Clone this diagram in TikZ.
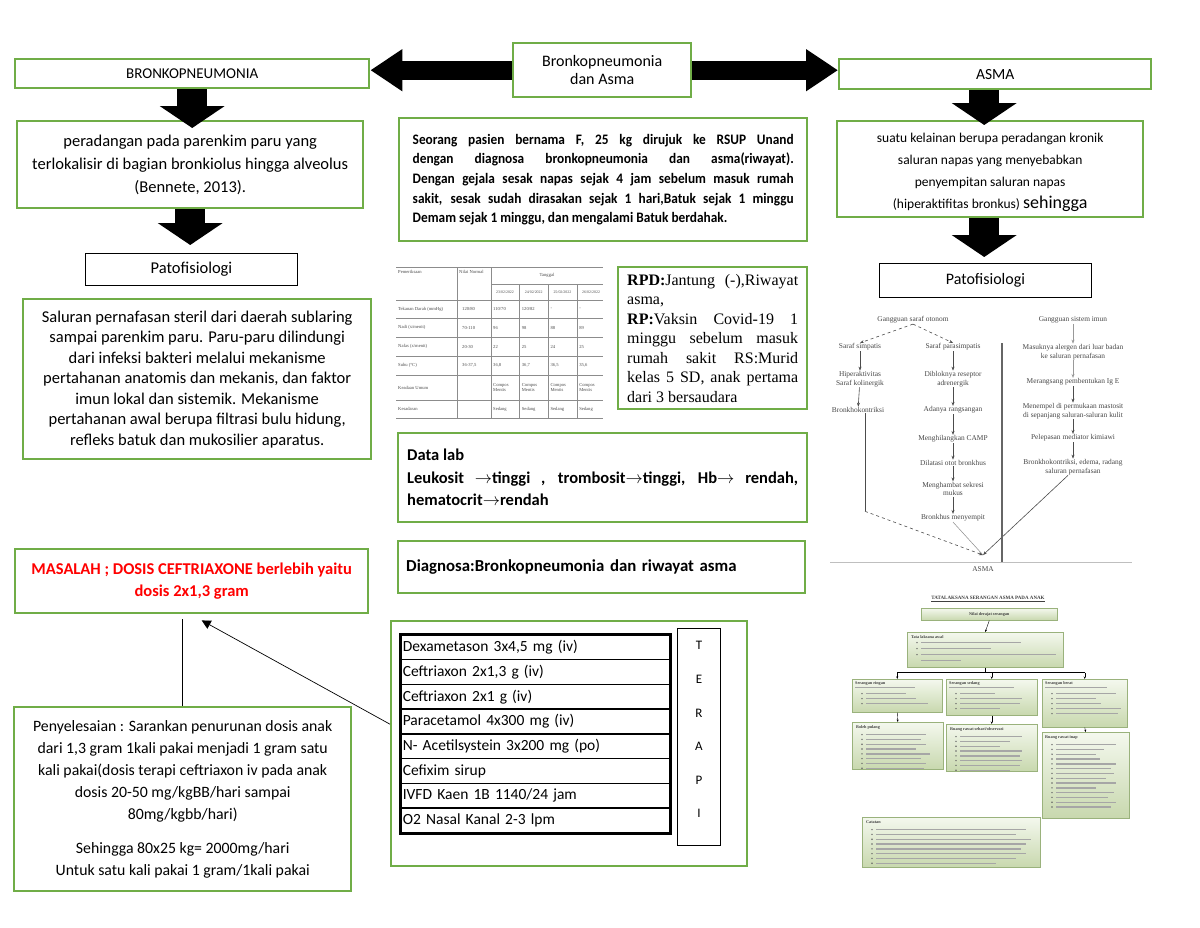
\documentclass[tikz,border=0pt]{standalone}
\usepackage{fontspec}
\setmainfont{Carlito}
\newfontfamily\timesf{Liberation Serif}
\newfontfamily\condf[FakeStretch=0.92]{Carlito}
\usetikzlibrary{arrows.meta,calc}
\definecolor{gborder}{HTML}{70AD47}
\definecolor{tgtop}{HTML}{F4F8EE}
\definecolor{tgbot}{HTML}{C8D8AE}
\definecolor{tgdraw}{HTML}{9AB27C}
\newcommand{\fsz}[2]{\fontsize{#1}{#2}\selectfont}
\newcommand{\myarr}{\ensuremath{\rightarrow}}
\newcommand{\tbars}[4]{\foreach \L [count=\q] in {#4} \fill[black!35] (#1,{#2+(\q-1)*#3}) rectangle ++(\L,1.3);}
\newcommand{\tbul}[4]{\foreach \L [count=\q] in {#4} {\fill[black!60] (#1,{#2+(\q-1)*#3+0.6}) circle (0.8); \fill[black!35] ({#1+4},{#2+(\q-1)*#3}) rectangle ++(\L,1.3);}}
\begin{document}
\begin{tikzpicture}[x=1pt,y=-1pt,
  gbox/.style={draw=gborder,line width=2.4pt,inner sep=0pt,anchor=north west},
  bbox/.style={draw=black,line width=0.9pt,inner sep=0pt,anchor=north west},
  vbig/.style={line width=30pt,-{Triangle[length=22pt 0 0,width=64pt 0 0]}},
  hbig/.style={line width=19pt,-{Triangle[length=32pt 0 0,width=40pt 0 0]}},
  ptxt/.style={font=\timesf\fsz{7.4}{8.6}, text=black!72, align=center, inner sep=0.5pt},
  parr/.style={draw=black!70, line width=0.6pt, -{Stealth[length=4pt,width=3pt]}},
  tbox/.style={draw=tgdraw, line width=0.5pt, top color=tgtop, bottom color=tgbot, anchor=north west, inner sep=0pt},
  tabtxt/.style={font=\timesf\fsz{4.6}{5.2}, text=black!70, inner sep=0pt},
  thead/.style={font=\timesf\bfseries\fsz{4.2}{5}, text=black!75, inner sep=0pt, anchor=west},
  sarr/.style={line width=0.4pt, -{Stealth[length=2.5pt,width=2pt]}},
]
\useasboundingbox (0,0) rectangle (1200,927);
\fill[white] (0,0) rectangle (1200,927);

% ---------- top row ----------
\node[gbox,minimum width=354pt,minimum height=29pt,font=\fsz{15}{17}] (bp) at (14,58) {BRONKOPNEUMONIA};
\node[gbox,minimum width=178pt,minimum height=54pt,align=center,font=\fsz{16}{18.5}] (top) at (512,42) {Bronkopneumonia\\dan Asma};
\node[gbox,minimum width=312pt,minimum height=30pt,font=\fsz{15.5}{17}] (as) at (838,58) {ASMA};
\draw[hbig] (top.west) -- (top.west -| bp.east);
\draw[hbig] (top.east) -- (top.east -| as.west);

% ---------- left column ----------
\node[gbox,minimum width=346pt,minimum height=87pt,align=center,font=\fsz{16.5}{23}] (def) at (16,120) {peradangan pada parenkim paru yang\\terlokalisir di bagian bronkiolus hingga alveolus\\(Bennete, 2013).};
\draw[vbig] (bp.south) -- ([yshift=-8pt]bp.south |- def.north);
\node[bbox,minimum width=212pt,minimum height=32pt,font=\fsz{16.5}{18}] (pat1) at (85,253) {Patofisiologi};
\draw[vbig] (def.south) -- ([yshift=8pt]def.south |- pat1.north);
\node[gbox,minimum width=348pt,minimum height=160pt,align=center,font=\fsz{16.5}{20.5}] (sal) at (22,298) {Saluran pernafasan steril dari daerah sublaring\\sampai parenkim paru. Paru-paru dilindungi\\dari infeksi bakteri melalui mekanisme\\pertahanan anatomis dan mekanis, dan faktor\\imun lokal dan sistemik. Mekanisme\\pertahanan awal berupa filtrasi bulu hidung,\\refleks batuk dan mukosilier aparatus.};

\node[gbox,minimum width=353pt,minimum height=64pt,align=center,text=red,font=\bfseries\fsz{16.5}{22}] (mas) at (14,548) {MASALAH ; DOSIS CEFTRIAXONE berlebih yaitu\\dosis 2x1,3 gram};
\node[gbox,minimum width=337pt,minimum height=184pt,align=center,font=\fsz{15.8}{22}] (pen) at (13,706) {Penyelesaian : Sarankan penurunan dosis anak\\dari 1,3 gram 1kali pakai menjadi 1 gram satu\\kali pakai(dosis terapi ceftriaxon iv pada anak\\dosis 20-50 mg/kgBB/hari sampai\\80mg/kgbb/hari)\\[12pt]Sehingga 80x25 kg= 2000mg/hari\\Untuk satu kali pakai 1 gram/1kali pakai};
\draw[line width=0.8pt] (pen.north) -- ([yshift=-5pt]pen.north |- mas.south);

% ---------- middle column ----------
\node[gbox,minimum width=408pt,minimum height=123pt,text width=381pt,align=justify,font=\condf\bfseries\fsz{14.5}{19.7}] (seo) at (398,117) {Seorang pasien bernama F, 25 kg dirujuk ke RSUP Unand\linebreak dengan diagnosa bronkopneumonia dan asma(riwayat).\linebreak Dengan gejala sesak napas sejak 4 jam sebelum masuk rumah\linebreak sakit, sesak sudah dirasakan sejak 1 hari,Batuk sejak 1 minggu\linebreak Demam sejak 1 minggu, dan mengalami Batuk berdahak.};

% table image (vital signs)
\begin{scope}[draw=black!45, line width=0.6pt]
 \foreach \yy in {267,300,318,337,356,375,400,418} \draw (396,\yy) -- (603,\yy);
 \draw (491,284) -- (603,284);
 \foreach \xx in {457,491} \draw (\xx,267) -- (\xx,418);
 \foreach \xx in {519.7,548.4,577.1} \draw (\xx,284) -- (\xx,418);
\end{scope}
\node[tabtxt,anchor=west] at (398,272) {Pemeriksaan};
\node[tabtxt,anchor=west] at (459,272) {Nilai Normal};
\node[tabtxt] at (547,275) {Tanggal};
\foreach \v [count=\k] in {{23/02/2022},{24/02/2022},{25/02/2022},{26/02/2022}} \node[tabtxt,font=\timesf\fsz{3.9}{4.5}] at ({505+28.7*(\k-1)},292) {\v};
\node[tabtxt,anchor=west] at (398,309) {Tekanan Darah (mmHg)};
\node[tabtxt,anchor=west] at (462,309) {120/80};
\foreach \v [count=\k] in {{110/70},{120/82},-,-} \node[tabtxt,anchor=west] at ({493+28.7*(\k-1)},309) {\v};
\node[tabtxt,anchor=west] at (398,327.5) {Nadi (x/menit)};
\node[tabtxt,anchor=west] at (462,327.5) {70-110};
\foreach \v [count=\k] in {96,98,88,89} \node[tabtxt,anchor=west] at ({493+28.7*(\k-1)},327.5) {\v};
\node[tabtxt,anchor=west] at (398,346.5) {Nafas (x/menit)};
\node[tabtxt,anchor=west] at (462,346.5) {20-30};
\foreach \v [count=\k] in {22,25,24,25} \node[tabtxt,anchor=west] at ({493+28.7*(\k-1)},346.5) {\v};
\node[tabtxt,anchor=west] at (398,365.5) {Suhu (°C)};
\node[tabtxt,anchor=west] at (462,365.5) {36-37,5};
\foreach \v [count=\k] in {{36,8},{36,7},{36,5},{35,6}} \node[tabtxt,anchor=west] at ({493+28.7*(\k-1)},365.5) {\v};
\node[tabtxt,anchor=west] at (398,387.5) {Keadaan Umum};
\foreach \k in {1,2,3,4} \node[tabtxt,anchor=west,align=left] at ({493+28.7*(\k-1)},387.5) {Compos\\Mentis};
\node[tabtxt,anchor=west] at (398,409) {Kesadaran};
\foreach \k in {1,2,3,4} \node[tabtxt,anchor=west] at ({493+28.7*(\k-1)},409) {Sedang};

\node[gbox,minimum width=189pt,minimum height=142pt,text width=171pt,align=justify,font=\timesf\fsz{16}{19.5}] (rpd) at (617,266) {\textbf{RPD:}Jantung (-),Riwayat\linebreak asma,\\\textbf{RP:}Vaksin Covid-19 1\linebreak minggu sebelum masuk\linebreak rumah sakit RS:Murid\linebreak kelas 5 SD, anak pertama\linebreak dari 3 bersaudara};

\node[gbox,minimum width=409pt,minimum height=89pt,text width=391pt,align=justify,font=\bfseries\fsz{16.5}{22.5}] (lab) at (397,432) {Data lab\\Leukosit \myarr tinggi , trombosit\myarr tinggi, Hb\myarr{} rendah,\linebreak hematocrit\myarr rendah};
\node[gbox,minimum width=407pt,minimum height=52pt,text width=391pt,align=left,font=\bfseries\fsz{16.8}{19}] (dia) at (397,540) {Diagnosa:Bronkopneumonia dan riwayat asma};

\node[gbox,minimum width=356pt,minimum height=245pt] (ter) at (390,620) {};
\foreach \t [count=\i] in {{Dexametason 3x4,5 mg (iv)},{Ceftriaxon 2x1,3 g (iv)},{Ceftriaxon 2x1 g (iv)},{Paracetamol 4x300 mg (iv)},{N- Acetilsystein 3x200 mg (po)},{Cefixim sirup},{IVFD Kaen 1B 1140/24 jam},{O2 Nasal Kanal 2-3 lpm}}
  \node[draw=black,line width=1.6pt,minimum width=269pt,minimum height=24.75pt,anchor=north west,inner xsep=2pt,inner ysep=0pt,text width=265pt,align=left,font=\fsz{15.5}{17}] (r\i) at (400,{634+24.75*(\i-1)}) {\t};
\draw[line width=2.2pt] (r1.north west) rectangle (r8.south east);
\node[bbox,minimum width=43pt,minimum height=217pt] (tp) at (677,628) {};
\node[anchor=north,align=center,font=\fsz{13}{33.6}] (tpl) at ([yshift=-10pt]tp.north) {T\\E\\R\\A\\P\\I};
\draw[line width=0.7pt,-{Triangle[length=9pt,width=9pt]}] ([yshift=19.5pt]ter.west) -- ([xshift=10pt,yshift=-6pt]mas.south);

% ---------- right column ----------
\node[gbox,minimum width=306pt,minimum height=96pt] (sua) at (836,120) {};
\draw[vbig] ([xshift=-11pt]as.south) -- ([xshift=-11pt,yshift=-5pt]as.south |- sua.north);
\node[anchor=north,align=center,font=\fsz{13.5}{22}] (suat) at ([yshift=-10pt]sua.north) {suatu kelainan berupa peradangan kronik\\saluran napas yang menyebabkan\\penyempitan saluran napas\\(hiperaktifitas bronkus) {\fsz{18}{22}sehingga}};
\node[bbox,minimum width=212pt,minimum height=34pt,font=\fsz{16}{18}] (pat2) at (879,263) {Patofisiologi};
\draw[vbig] ([xshift=-6pt]sua.south) -- ([xshift=-6pt,yshift=6pt]sua.south |- pat2.north);

% pathophysiology figure
\begin{scope}[every node/.style={ptxt}]
\node (g1) at (913,320) {Gangguan saraf otonom};
\node (s1) at (860,347) {Saraf simpatis};
\node (s2) at (953,347) {Saraf parasimpatis};
\node (h1) at (860,379) {Hiperaktivitas\\Saraf kolinergik};
\node (b1) at (858,410) {Bronkhokontriksi};
\node (p1) at (953,379) {Dibloknya reseptor\\adrenergik};
\node (p2) at (953,410) {Adanya rangsangan};
\node (p3) at (953,439) {Menghilangkan CAMP};
\node (p4) at (953,463) {Dilatasi otot bronkhus};
\node (p5) at (953,489) {Menghambat sekresi\\mukus};
\node (p6) at (953,518) {Bronkhus menyempit};
\node (i0) at (1073,320) {Gangguan sistem imun};
\node (i1) at (1073,352) {Masuknya alergen dari luar badan\\ke saluran pernafasan};
\node (i2) at (1073,382) {Merangsang pembentukan Ig E};
\node (i3) at (1073,411) {Menempel di permukaan mastosit\\di sepanjang saluran-saluran kulit};
\node (i4) at (1073,438) {Pelepasan mediator kimiawi};
\node (i5) at (1073,467) {Bronkhokontriksi, edema, radang\\saluran pernafasan};
\node (asm) at (983,569) {ASMA};
\end{scope}
\coordinate (tip) at (983,555);
\draw[parr,dashed] (g1.south) -- (s1.north);
\draw[parr,dashed] (g1.south) -- (s2.north);
\draw[parr] (s1) -- (h1);
\draw[parr] (h1) -- (b1);
\draw[parr] (s2) -- (p1);
\draw[parr] (p1) -- (p2);
\draw[parr] (p2) -- (p3);
\draw[parr] (p3) -- (p4);
\draw[parr] (p4) -- (p5);
\draw[parr] (p5) -- (p6);
\draw[parr,draw=black!40] (i0) -- (i1);
\draw[parr,draw=black!40] (i1) -- (i2);
\draw[parr] (i2) -- (i3);
\draw[parr] (i3) -- (i4);
\draw[parr] (i4) -- (i5);
\draw[black!70,line width=0.6pt] ([xshift=7pt]b1.south) -- ++(0,98) coordinate (bl);
\draw[parr,dashed] (bl) -- (tip);
\draw[black!45,line width=0.5pt] (p6.south) -- (tip);
\draw[parr] ([xshift=-5pt]i5.south) -- (tip);
\draw[black!60,line width=1.2pt] (1002,343) -- (1002,562);
\draw[black!25,line width=0.8pt] (830,562) -- (1132,562);

% asthma management chart
\node[font=\timesf\bfseries\fsz{5}{6},text=black!75,inner sep=0pt] (tt) at (988,599) {\underline{TATALAKSANA SERANGAN ASMA PADA ANAK}};
\node[tbox,minimum width=136pt,minimum height=12pt] (n0) at (921,608) {};
\node[font=\timesf\bfseries\fsz{4.2}{5},text=black!75,inner sep=0pt] at (n0.center) {Nilai derajat serangan};
\node[tbox,minimum width=156pt,minimum height=35pt] (n1) at (907,632) {};
\node[thead] at (911,637) {Tata laksana awal};
\tbul{917}{642}{6}{100,70,135}
\tbars{921}{660}{6}{40}
\draw[sarr] (n0.south) -- (n1.north);
\node[tbox,minimum width=90pt,minimum height=33pt] (L1) at (852,679) {};
\node[tbox,minimum width=91pt,minimum height=36pt] (M1) at (946,679) {};
\node[tbox,minimum width=85pt,minimum height=48pt] (R1) at (1042,679) {};
\draw[line width=0.5pt] (n1.south) -- ++(0,5) coordinate (hj);
\draw[line width=0.5pt] (L1.north |- hj) -- (R1.north |- hj);
\draw[sarr] (L1.north |- hj) -- (L1.north);
\draw[sarr] (M1.north |- hj) -- (M1.north);
\draw[sarr] (R1.north |- hj) -- (R1.north);
\node[thead] at (855,683) {Serangan ringan};
\tbars{855}{687}{5}{60}
\tbul{862}{693}{5}{40,50,62}
\node[thead] at (949,683) {Serangan sedang};
\tbars{949}{687}{5}{65}
\tbul{956}{693}{5}{35,62,60,40}
\node[thead] at (1045,683) {Serangan berat};
\tbars{1045}{687}{5}{62}
\tbul{1052}{693}{5}{60,40,45,65,62}
\node[tbox,minimum width=91pt,minimum height=47pt] (L2) at (852,722) {};
\node[tbox,minimum width=91pt,minimum height=47pt] (M2) at (946,724) {};
\node[tbox,minimum width=87pt,minimum height=86pt] (R2) at (1042,732) {};
\draw[sarr] (L1.south) -- (L2.north);
\draw[sarr] (M1.south) -- (M2.north);
\draw[sarr] (R1.south) -- (R2.north);
\node[thead] at (856,727) {Boleh pulang};
\tbul{862}{734}{4.8}{60,55,60,50,64,55,60,58}
\node[thead] at (950,729) {Ruang rawat sehari/observasi};
\tbul{956}{736}{4.8}{62,50,40,62,60,62,60,50}
\node[thead] at (1045,737) {Ruang rawat inap};
\tbul{1052}{744}{4.8}{60,48,40,44,60,55,58,50,60,40,58,52,60,55}
\node[tbox,minimum width=178pt,minimum height=50pt] (cat) at (862,817) {};
\node[thead] at (866,822) {Catatan};
\tbul{872}{829}{4.8}{150,140,155,150,145,150,140,120}
\end{tikzpicture}
\end{document}
